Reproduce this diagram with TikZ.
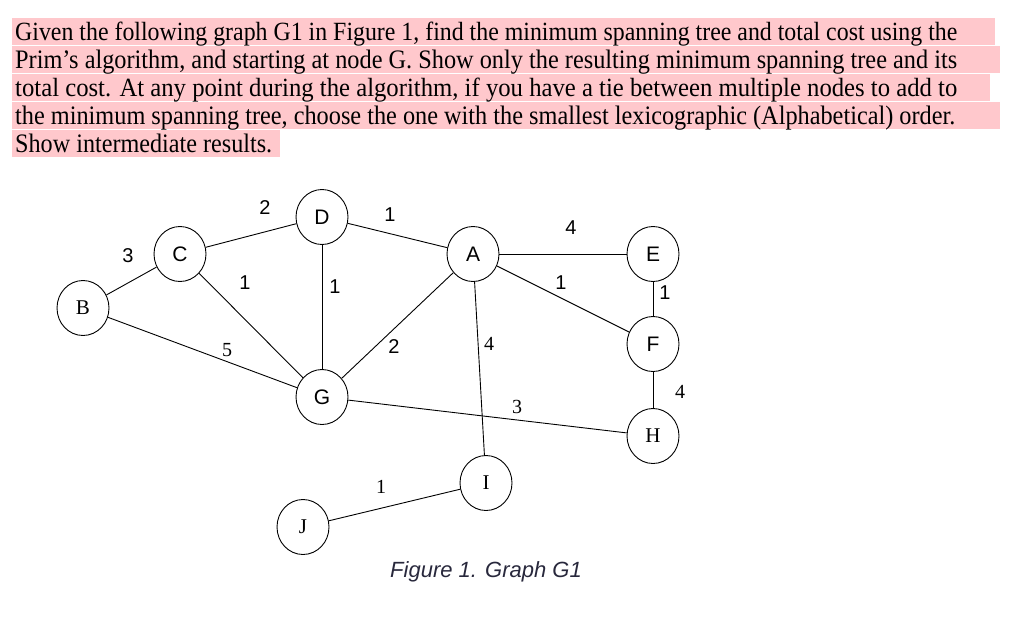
\documentclass[tikz,border=0pt]{standalone}
\usepackage{fontspec}
\setmainfont{Liberation Serif}
\setsansfont{Liberation Sans}
\usetikzlibrary{shapes.geometric}
\begin{document}
\begin{tikzpicture}[x=1pt,y=-1pt,
  vtx/.style={draw,ellipse,minimum width=52pt,minimum height=55pt,inner sep=0pt,line width=0.9pt,font=\sffamily\fontsize{21}{21}\selectfont},
  svtx/.style={vtx,font=\rmfamily\fontsize{21}{21}\selectfont},
  edge/.style={line width=0.9pt},
  lab/.style={font=\sffamily\fontsize{20}{20}\selectfont},
  slab/.style={font=\rmfamily\fontsize{20}{20}\selectfont},
  hl/.style={fill={rgb,255:red,255;green,200;blue,204},draw=none},
  txt/.style={anchor=base west,inner sep=0pt}]
\useasboundingbox (0,0) rectangle (1024,629);
\fill[hl] (12,18) rectangle (995,45);
\fill[hl] (12,46) rectangle (1000,73);
\fill[hl] (12,74) rectangle (990,101);
\fill[hl] (12,102) rectangle (1000,129);
\fill[hl] (12,130) rectangle (280,157);
\node[txt] (t1) at (15,40) {\resizebox{942pt}{18.5pt}{Given the following graph G1 in Figure 1, find the minimum spanning tree and total cost using the}};
\node[txt] (t2) at (15,68) {\resizebox{942pt}{18.5pt}{Prim’s algorithm, and starting at node G. Show only the resulting minimum spanning tree and its}};
\node[txt] (t3) at (15,96) {\resizebox{942pt}{18.5pt}{total cost. At any point during the algorithm, if you have a tie between multiple nodes to add to}};
\node[txt] (t4) at (15,124) {\resizebox{940pt}{18.5pt}{the minimum spanning tree, choose the one with the smallest lexicographic (Alphabetical) order.}};
\node[txt] (t5) at (15,152) {\resizebox{257pt}{18.5pt}{Show intermediate results.}};
\node[vtx] (D) at (322,217) {D};
\node[vtx] (C) at (180,254) {C};
\node[vtx] (A) at (473,254) {A};
\node[vtx] (E) at (653,254) {E};
\node[vtx] (F) at (653,344) {F};
\node[vtx] (G) at (322,397) {G};
\node[svtx] (B) at (83,308) {B};
\node[svtx] (H) at (653,436) {H};
\node[svtx] (I) at (486,483) {I};
\node[svtx] (J) at (303,527) {J};
\draw[edge] (B)--(C); \draw[edge] (C)--(D); \draw[edge] (D)--(A);
\draw[edge] (C)--(G); \draw[edge] (D)--(G); \draw[edge] (A)--(G);
\draw[edge] (B)--(G); \draw[edge] (A)--(E); \draw[edge] (A)--(F);
\draw[edge] (E)--(F); \draw[edge] (F)--(H); \draw[edge] (G)--(H);
\draw[edge] (A)--(I); \draw[edge] (J)--(I);
\node[lab] (l1) at (265,208) {2};
\node[lab] (l2) at (390,215) {1};
\node[lab] (l3) at (571,228) {4};
\node[lab] (l4) at (128,256) {3};
\node[lab] (l5) at (245,283) {1};
\node[lab] (l6) at (335,287) {1};
\node[lab] (l7) at (561,283) {1};
\node[lab] (l8) at (665,293) {1};
\node[lab] (l9) at (394,347) {2};
\node[slab] (l10) at (489,344) {4};
\node[slab] (l11) at (227,350) {5};
\node[slab] (l12) at (680,392) {4};
\node[slab] (l13) at (517,407) {3};
\node[slab] (l14) at (381,487) {1};
\node[font=\sffamily\itshape\fontsize{22}{22}\selectfont,text={rgb,255:red,40;green,40;blue,60}] (cap) at (486,572) {Figure 1. Graph G1};
\end{tikzpicture}
\end{document}
